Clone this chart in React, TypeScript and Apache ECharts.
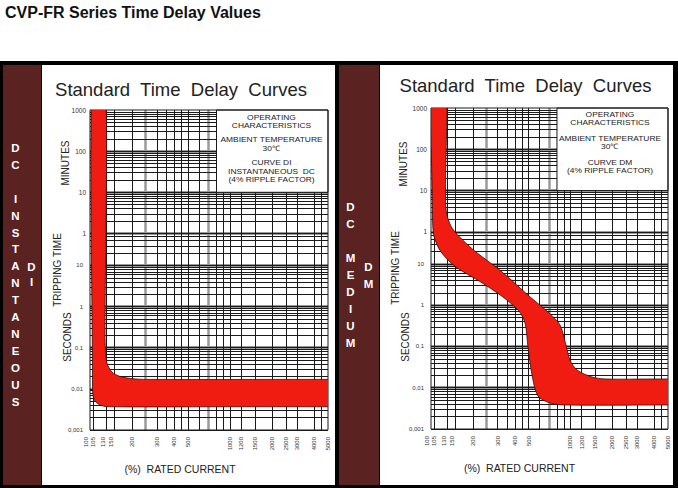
import React, { useEffect, useRef } from 'react';
import * as echarts from 'echarts';

const FONT = '"Liberation Sans", Arial, Helvetica, sans-serif';
const RED = '#f01c12';

const pageTitle = 'CVP-FR Series Time Delay Values';
const panelTitle = 'Standard\u00a0 Time\u00a0 Delay\u00a0 Curves';
const xAxisTitle = '(%)\u00a0 RATED CURRENT';

// ---- x axis (% rated current) ----
const currentLabels = [100, 105, 130, 150, 200, 300, 400, 500, 1000, 1200, 1500, 2000, 2500, 3000, 4000, 5000];
const currentGridBlack = [105, 130, 150, 200, 300, 350, 400, 450, 500, 600, 800, 900, 1000, 1200, 1500, 2000, 2500, 3000, 4000, 4500];
const currentGridGray = [250, 700];

// ---- y axis (tripping time, stored in seconds) ----
const secondLabels = [0.001, 0.01, 0.1, 1, 10];
const minuteLabels = [1, 10, 100, 1000];
const minorSteps = [1, 2, 3, 4, 5, 6, 7, 8, 9];
const secondDecades = [0.001, 0.01, 0.1, 1];
const extraSeconds = [10, 20, 30, 40, 50];
const minuteDecades = [1, 10, 100];
const grayTimes = [0.01, 0.1, 1, 10, 60, 600, 6000];

// ---- DI band (current %, seconds) ----
const diUpperCurrent = [128, 128, 129, 132, 143.6, 164, 200, 254, 4000, 5000, 10000];
const diUpperTime = [1e6, 0.204, 0.088, 0.0426, 0.0257, 0.02, 0.0177, 0.017, 0.017, 0.017, 0.017];
const diLowerCurrent = [10000, 5000, 1000, 134.5, 118, 108.6, 105, 104.2, 104.2];
const diLowerTime = [0.00368, 0.00368, 0.00368, 0.00368, 0.00405, 0.00507, 0.0071, 0.0124, 1e6];

// ---- DM band (current %, seconds) ----
const dmUpperCurrent = [127, 127, 130.2, 141.5, 168.7, 210, 323, 504, 701, 841, 928, 992, 1113, 1426, 1767, 4000, 5000, 10000];
const dmUpperTime = [1e6, 354, 153, 74, 38, 19.5, 6.4, 1.67, 0.65, 0.33, 0.108, 0.047, 0.0269, 0.0182, 0.0163, 0.0163, 0.0163, 0.0163];
const dmLowerCurrent = [10000, 5000, 913, 713, 585, 530, 496, 472, 427, 328, 221, 151, 118, 105, 102.5, 102.5];
const dmLowerTime = [0.00382, 0.00382, 0.00382, 0.00427, 0.0063, 0.0203, 0.097, 0.37, 0.72, 1.58, 3.86, 8.4, 19.5, 47.5, 153, 1e6];

const leftBoxLines = ['OPERATING', 'CHARACTERISTICS', 'AMBIENT TEMPERATURE', '30\u2103', 'CURVE DI', 'INSTANTANEOUS\u00a0 DC', '(4% RIPPLE FACTOR)'];
const rightBoxLines = ['OPERATING', 'CHARACTERISTICS', 'AMBIENT TEMPERATURE', '30\u2103', 'CURVE DM', '(4% RIPPLE FACTOR)'];

const hLines: number[] = [
  ...secondDecades.flatMap((d) => minorSteps.map((k) => +(d * k).toPrecision(4))),
  ...extraSeconds,
  ...minuteDecades.flatMap((d) => minorSteps.map((k) => d * k * 60)),
];

const fmtSeconds = (v: number) => String(+(+v).toPrecision(4)).replace('.', ',');
const fmtMinutes = (v: number) => String(Math.round(v / 60));

const labelShift: Record<number, number> = { 100: 8, 130: 6, 150: 8 };

function makeAxes(i: number) {
  const xs = [
    {
      type: 'log', logBase: 10, gridIndex: i, min: 100, max: 5000, position: 'bottom', z: 1,
      axisLine: { show: false },
      axisTick: { show: false, customValues: currentGridBlack },
      splitLine: { show: true, lineStyle: { color: '#1a1a1a', width: 1 } },
      axisLabel: {
        customValues: currentLabels, rotate: 90, fontSize: 6, margin: 7, color: '#333', fontFamily: FONT,
        showMinLabel: true, showMaxLabel: true,
        formatter: (v: number) => {
          const r = Math.round(v);
          return labelShift[r] ? `{s${r}|${r}}` : String(r);
        },
        rich: Object.fromEntries(
          Object.entries(labelShift).map(([k, p]) => [
            's' + k,
            { fontSize: 6, color: '#333', fontFamily: FONT, padding: [0, 0, p, 0] },
          ])
        ),
      },
    },
    {
      type: 'log', logBase: 10, gridIndex: i, min: 100, max: 5000, position: 'top', z: 0,
      axisLine: { show: false },
      axisLabel: { show: false },
      axisTick: { show: false, customValues: currentGridGray },
      splitLine: { show: true, lineStyle: { color: '#9a9a9a', width: 2.5 } },
    },
  ];
  const ys = [
    {
      type: 'log', logBase: 10, gridIndex: i, min: 0.001, max: 60000, position: 'left', z: 1,
      axisLine: { show: false },
      axisTick: { show: false, customValues: hLines },
      splitLine: { show: true, lineStyle: { color: '#1a1a1a', width: 1 } },
      axisLabel: {
        customValues: secondLabels, formatter: fmtSeconds, fontSize: 6, margin: 7, color: '#333', fontFamily: FONT,
        showMinLabel: true, showMaxLabel: true,
      },
    },
    {
      type: 'log', logBase: 10, gridIndex: i, min: 0.001, max: 60000, position: 'left', z: 1,
      axisLine: { show: false },
      axisTick: { show: false },
      splitLine: { show: false },
      axisLabel: {
        customValues: minuteLabels.map((m) => m * 60), formatter: fmtMinutes, fontSize: 6.5, margin: 4, color: '#333', fontFamily: FONT,
        showMinLabel: true, showMaxLabel: true,
      },
    },
    {
      type: 'log', logBase: 10, gridIndex: i, min: 0.001, max: 60000, position: 'right', z: 0,
      axisLine: { show: false },
      axisLabel: { show: false },
      axisTick: { show: false, customValues: grayTimes },
      splitLine: { show: true, lineStyle: { color: '#9a9a9a', width: 3 } },
    },
  ];
  return { xs, ys };
}

function makeBandSeries(i: number, upC: number[], upT: number[], loC: number[], loT: number[]) {
  const cs = [...upC, ...loC];
  const ts = [...upT, ...loT];
  return {
    type: 'custom',
    xAxisIndex: 2 * i,
    yAxisIndex: 3 * i,
    clip: true,
    z: 3,
    silent: true,
    data: cs.map((c, k) => [c, ts[k]]),
    renderItem: (params: any, api: any) => {
      if (params.dataIndex !== 0) return null;
      const pts = cs.map((c, k) => api.coord([c, ts[k]]));
      return {
        type: 'polygon',
        shape: { points: pts, smooth: 0.3 },
        style: { fill: RED, stroke: '#3b0a06', lineWidth: 0.8 },
      };
    },
    markArea: {
      silent: true,
      itemStyle: { color: '#ffffff', borderColor: '#1a1a1a', borderWidth: 1 },
      data: [[{ xAxis: 800, yAxis: 600 }, { xAxis: 5000, yAxis: 60000 }]],
    },
  };
}

function txt(x: number, y: number, text: string, o: any = {}, rotation = 0) {
  return {
    type: 'text', x, y, rotation, z: 100, silent: true,
    scaleX: o.scaleX || 1,
    style: {
      text, fill: o.fill || '#222', fontSize: o.fontSize || 10, fontWeight: o.fontWeight || 'normal',
      fontFamily: FONT, align: o.align || 'center', verticalAlign: 'middle',
    },
  };
}

function stackedLetters(word: string, x: number, y0: number, step: number) {
  const out: any[] = [];
  word.split('').forEach((ch, k) => {
    if (ch !== ' ') out.push(txt(x, y0 + k * step, ch, { fill: '#ffffff', fontSize: 11.5, fontWeight: 'bold' }));
  });
  return out;
}

export default function App() {
  const ref = useRef<HTMLDivElement>(null);
  useEffect(() => {
    if (!ref.current) return;
    const chart = echarts.init(ref.current, null, { renderer: 'svg' });
    const a0 = makeAxes(0);
    const a1 = makeAxes(1);
    const rect = (x: number, y: number, w: number, h: number, fill: string) => ({
      type: 'rect', z: -10, silent: true, shape: { x, y, width: w, height: h }, style: { fill },
    });
    const graphic: any[] = [
      rect(0, 0, 678, 488, '#ffffff'),
      rect(0, 61, 678, 427, '#000000'),
      rect(3, 65, 38, 420, '#5b2222'),
      rect(42, 65, 293, 420, '#ffffff'),
      rect(339, 65, 40, 420, '#5b2222'),
      rect(380, 65, 293, 420, '#ffffff'),
      txt(5, 12.5, pageTitle, { fontSize: 16, fontWeight: 'bold', align: 'left', fill: '#111' }),
      txt(181, 89, panelTitle, { fontSize: 18.5 }),
      txt(525.5, 85, panelTitle, { fontSize: 18.5 }),
      txt(65, 163, 'MINUTES', { fontSize: 10 }, Math.PI / 2),
      txt(57, 270, 'TRIPPING TIME', { fontSize: 10 }, Math.PI / 2),
      txt(67, 337, 'SECONDS', { fontSize: 10 }, Math.PI / 2),
      txt(403, 164, 'MINUTES', { fontSize: 10 }, Math.PI / 2),
      txt(395, 268, 'TRIPPING TIME', { fontSize: 10 }, Math.PI / 2),
      txt(405, 337, 'SECONDS', { fontSize: 10 }, Math.PI / 2),
      txt(180, 469, xAxisTitle, { fontSize: 10.5 }),
      txt(519.5, 468, xAxisTitle, { fontSize: 10.5 }),
      ...stackedLetters('DC INSTANTANEOUS', 15.5, 148, 16.9),
      ...stackedLetters('DI', 31.5, 267, 15),
      ...stackedLetters('DC MEDIUM', 350.5, 207, 17),
      ...stackedLetters('DM', 368.5, 267, 16.5),
    ];
    const boxFont = { fontSize: 7.5, scaleX: 1.12 };
    const leftY = [117.5, 126, 140, 148.5, 163, 171.5, 180];
    leftBoxLines.forEach((s, k) => graphic.push(txt(271.5, leftY[k], s, boxFont)));
    const rightY = [114.5, 123, 138.5, 147, 162.5, 171];
    rightBoxLines.forEach((s, k) => graphic.push(txt(610, rightY[k], s, boxFont)));

    chart.setOption({
      animation: false,
      backgroundColor: '#ffffff',
      graphic,
      grid: [
        { left: 90, top: 110, width: 238, height: 320, show: true, borderColor: '#1a1a1a', borderWidth: 1, backgroundColor: 'transparent', z: 2 },
        { left: 431, top: 108, width: 237, height: 321, show: true, borderColor: '#1a1a1a', borderWidth: 1, backgroundColor: 'transparent', z: 2 },
      ],
      xAxis: [...a0.xs, ...a1.xs],
      yAxis: [...a0.ys, ...a1.ys],
      series: [
        makeBandSeries(0, diUpperCurrent, diUpperTime, diLowerCurrent, diLowerTime),
        makeBandSeries(1, dmUpperCurrent, dmUpperTime, dmLowerCurrent, dmLowerTime),
      ],
    });
    return () => chart.dispose();
  }, []);
  return <div ref={ref} style={{ position: 'fixed', left: 0, top: 0, width: 678, height: 488 }} />;
}
